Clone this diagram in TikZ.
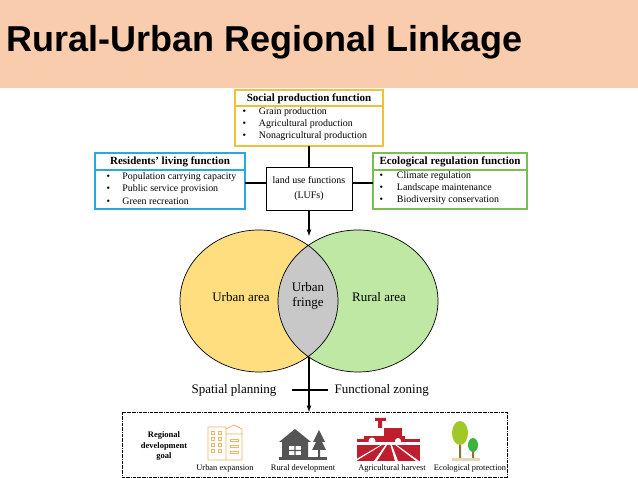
\documentclass[tikz,border=0pt]{standalone}
\usepackage{fontspec}
\setmainfont{Liberation Serif}
\newfontfamily\titlefont{Liberation Sans}
\definecolor{hdrbg}{RGB}{248,204,173}
\definecolor{cyel}{RGB}{255,222,128}
\definecolor{cgrn}{RGB}{190,232,164}
\definecolor{cgry}{RGB}{200,200,200}
\definecolor{byel}{RGB}{240,192,60}
\definecolor{bblu}{RGB}{40,170,220}
\definecolor{bgrn}{RGB}{120,190,80}
\definecolor{iorg}{RGB}{240,180,100}
\definecolor{idk}{RGB}{85,85,85}
\definecolor{ired}{RGB}{190,30,45}
\definecolor{ibrn}{RGB}{150,110,60}
\definecolor{isand}{RGB}{230,215,180}
\definecolor{ilime}{RGB}{160,200,40}
\definecolor{ileaf}{RGB}{60,180,60}
\begin{document}
\begin{tikzpicture}[x=1pt,y=-1pt,
  hdr/.style={font=\bfseries\fontsize{11}{12}\selectfont},
  itm/.style={font=\fontsize{9.9}{11}\selectfont,anchor=west},
  conn/.style={line width=1.2pt},
  lbl/.style={font=\fontsize{13}{15}\selectfont},
  iconcap/.style={font=\fontsize{8.4}{9}\selectfont}]
\useasboundingbox (0,0) rectangle (638,478);
\fill[white] (0,0) rectangle (638,478);
\fill[hdrbg] (0,0) rectangle (638,88);
\node[anchor=west,font=\titlefont\bfseries\fontsize{36}{40}\selectfont,inner sep=0pt] (title) at (6,42) {Rural-Urban Regional Linkage};
% ellipses
\fill[cyel] (259,301) ellipse (79 and 71);
\fill[cgrn] (358,301) ellipse (80 and 71);
\begin{scope}\clip (259,301) ellipse (79 and 71);
\fill[cgry] (358,301) ellipse (80 and 71);\end{scope}
\draw[line width=0.7pt] (259,301) ellipse (79 and 71) (358,301) ellipse (80 and 71);
\node[lbl] (ua) at (241,297) {Urban area};
\node[lbl,align=center] (uf) at (308,296) {Urban\\fringe};
\node[lbl] (ra) at (379,297) {Rural area};
% boxes
\draw[line width=1.2pt,byel] (235,90) rectangle (383,146) (235,106)--(383,106);
\node[hdr] (sp) at (309,98.5) {Social production function};
\foreach \t [count=\i] in {Grain production,Agricultural production,Nonagricultural production}{
 \node[itm] at (239,100+\i*12) {\textbullet\hspace{13pt}\t};}
\draw[line width=1.2pt,bblu] (95,153) rectangle (245,209) (95,170)--(245,170);
\node[hdr] (rl) at (170,162) {Residents’ living function};
\foreach \t [count=\i] in {Population carrying capacity,Public service provision,Green recreation}{
 \node[itm] at (103,165+\i*12) {\textbullet\hspace{12.5pt}\t};}
\draw[line width=1.2pt,bgrn] (373,153) rectangle (527,209) (373,170)--(527,170);
\node[hdr] (er) at (450,162) {Ecological regulation function};
\foreach \t [count=\i] in {Climate regulation,Landscape maintenance,Biodiversity conservation}{
 \node[itm] at (376,164+\i*12) {\textbullet\hspace{14pt}\t};}
\node[draw,line width=0.7pt,minimum width=86pt,minimum height=43pt,align=center,font=\fontsize{10}{15}\selectfont] (luf) at (309,188.5) {land use functions\\(LUFs)};
\draw[conn] (309,146) -- (luf.north);
\draw[conn] (245,183) -- (luf.west |- 0,183);
\draw[conn] (luf.east |- 0,183) -- (373,183);
\coordinate (top) at (309,236);
\draw[conn,-latex] (luf.south) -- (top);
% planning
\coordinate (pb) at (309,357);
\draw[conn,-latex] (pb) -- (309,412);
\draw[conn] (292,390) -- (328,390);
\node[lbl,anchor=east] (spn) at (280,390) {Spatial planning};
\node[lbl,anchor=west] (fz) at (331,390) {Functional zoning};
% goals box
\draw[densely dashdotted,line width=0.6pt] (122,412) rectangle (507,477);
\node[align=center,font=\bfseries\fontsize{8.5}{10.5}\selectfont] (rg) at (164,446) {Regional\\development\\goal};
% urban icon
\begin{scope}[draw=iorg,line width=0.7pt]
\draw (208,460) rectangle (226,427) (226,460) rectangle (242,434) (226,434) -- (226,429) -- (234,425) -- (242,429) -- (242,434);
\foreach \yy in {431,437,443,449}{\foreach \xx in {211,218}{\draw (\xx,\yy) rectangle (\xx+3,\yy+3);}}
\foreach \yy in {439,445,451}{\draw (230,\yy) rectangle (238,\yy+2);}
\end{scope}
\node[iconcap] (ue) at (225,468) {Urban expansion};
% rural icon
\fill[idk] (279,442) -- (295,429) -- (311,442) -- (308,442) -- (308,458) -- (282,458) -- (282,442) -- cycle;
\fill[white] (289,446) rectangle (301,455);
\fill[idk] (294.3,446) rectangle (295.7,455) (289,449.8) rectangle (301,451.2);
\fill[idk] (319,430) -- (325,442) -- (322,442) -- (326,450) -- (320,450) -- (320,458) -- (318,458) -- (318,450) -- (312,450) -- (316,442) -- (313,442) -- cycle;
\fill[idk] (279,457) rectangle (327,460);
\node[iconcap] (rd) at (303,468) {Rural development};
% agri icon
\fill[ired] (357,439) rectangle (420,442);
\fill[ired] (364,436) rectangle (405,439);
\fill[ired] (384,428) rectangle (402,436);
\fill[ired] (378,418) rectangle (382,428) (375,418) rectangle (386,421);
\fill[white] (372,441) circle (3.5) (398,441) circle (3);
\fill[ired] (357,445) rectangle (420,461);
\foreach \d in {-24,-10,4,18}{\fill[white] (389+\d*0.35,445) -- (389+\d*0.35+1.5,445) -- (389+\d*1.5+3,461) -- (389+\d*1.5,461) -- cycle;}
\node[iconcap] (ah) at (392,468) {Agricultural harvest};
% eco icon
\fill[ibrn] (459,437) rectangle (461,459) (472,446) rectangle (474,459);
\fill[isand] (452,458) rectangle (480,461);
\fill[ilime] (460,433) ellipse (8 and 12);
\fill[ileaf] (473,445) ellipse (5 and 7);
\node[iconcap] (ep) at (470,468) {Ecological protection};
\end{tikzpicture}
\end{document}
